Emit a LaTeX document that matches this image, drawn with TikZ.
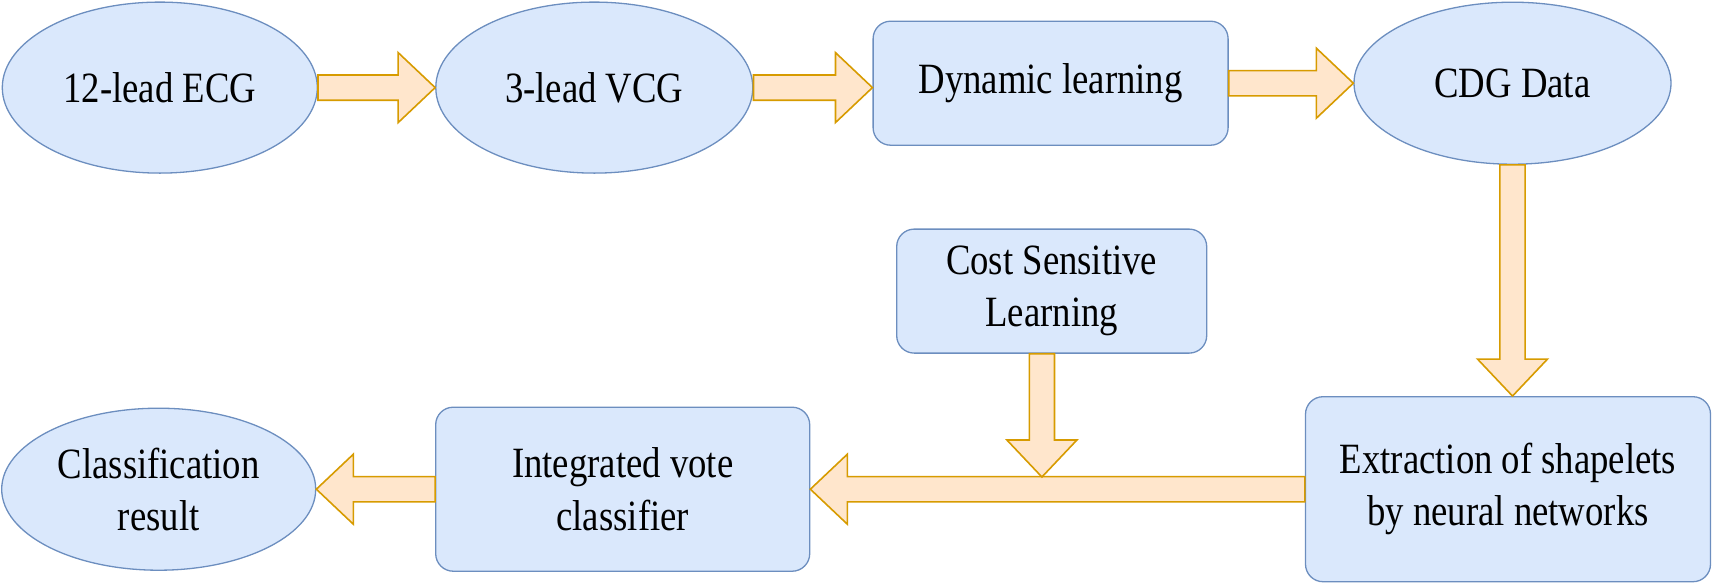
\documentclass[tikz,border=0pt]{standalone}
\usepackage{fontspec}
\setmainfont{Liberation Serif}[FakeStretch=0.85]
\usetikzlibrary{shapes.geometric,calc}

\definecolor{boxfill}{HTML}{DAE8FC}
\definecolor{boxline}{HTML}{6C8EBF}
\definecolor{arrowfill}{HTML}{FFE6CC}
\definecolor{arrowline}{HTML}{D79B00}

% point at distance #1 along and #2 across the arrow
\newcommand{\arpt}[2]{({\x1+(#1)*\n2-(#2)*\n3},{\y1+(#1)*\n3+(#2)*\n2})}

\tikzset{
    oval/.style={ellipse, draw=boxline, fill=boxfill, line width=1.3pt,
        inner sep=0pt, align=center},
    block/.style={rectangle, rounded corners=17.5pt, draw=boxline, fill=boxfill,
        line width=1.3pt, inner sep=0pt, align=center},
    bigarrow/.style={draw=arrowline, fill=arrowfill, line width=1.6pt,
        to path={let \p1=(\tikztostart), \p2=(\tikztotarget),
            \n1={veclen(\x2-\x1,\y2-\y1)}, \n2={(\x2-\x1)/\n1}, \n3={(\y2-\y1)/\n1} in
            \arpt{0}{12.6} -- \arpt{\n1-37}{12.6} -- \arpt{\n1-37}{35} -- \arpt{\n1}{0}
            -- \arpt{\n1-37}{-35} -- \arpt{\n1-37}{-12.6} -- \arpt{0}{-12.6} -- cycle}}
}

\begin{document}
\begin{tikzpicture}[x=1pt, y=-1pt, font=\fontsize{43.2}{52.4}\selectfont]
    \useasboundingbox (0,0) rectangle (1716,587);

    % Top row
    \node[oval, minimum width=315pt, minimum height=171pt] (ecg) at (159.8,87.6) {12-lead ECG};
    \node[oval, minimum width=317pt, minimum height=171pt] (vcg) at (594.3,87.6) {3-lead VCG};
    \node[block, minimum width=355pt, minimum height=124pt] (dyn) at (1050.6,83.2) {Dynamic learning};
    \node[oval, minimum width=317pt, minimum height=162pt] (cdg) at (1512.5,83.2) {CDG Data};

    % Bottom row
    \node[block, minimum width=405pt, minimum height=185pt] (shape) at (1508,489.2) {Extraction of shapelets\\by neural networks};
    \node[block, minimum width=310pt, minimum height=124pt] (cost) at (1051.7,291.1) {Cost Sensitive\\Learning};
    \node[block, minimum width=374pt, minimum height=164pt] (vote) at (622.7,489.2) {Integrated vote\\classifier};
    \node[oval, minimum width=314pt, minimum height=162pt] (result) at (158.7,489.2) {Classification\\result};

    % Arrows
    \draw[bigarrow] (ecg.east) to (ecg.east -| vcg.west);
    \draw[bigarrow] (vcg.east) to (vcg.east -| dyn.west);
    \draw[bigarrow] (dyn.east) to (dyn.east -| cdg.west);
    \draw[bigarrow] (cdg.south) to (cdg.south |- shape.north);
    \draw[bigarrow] (shape.west) to (shape.west -| vote.east);
    \coordinate (join) at (1041.9,477);
    \draw[bigarrow] (join |- cost.south) to (join);
    \draw[bigarrow] (vote.west) to (vote.west -| result.east);
\end{tikzpicture}
\end{document}
